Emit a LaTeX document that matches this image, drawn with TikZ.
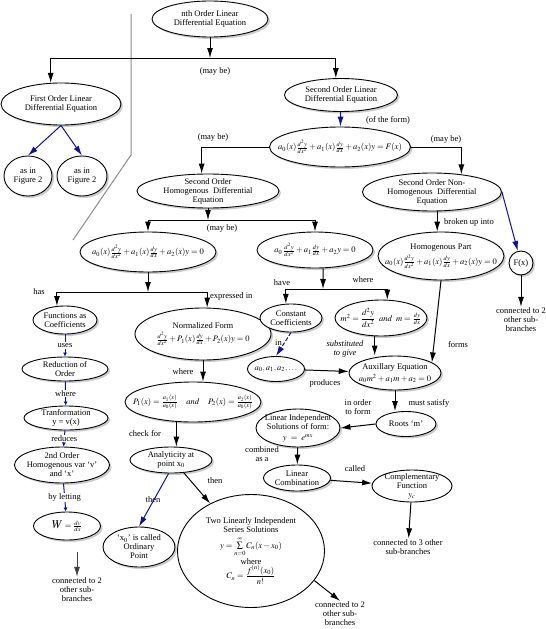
\documentclass[tikz,border=0pt]{standalone}
\usepackage{mathptmx}
\usepackage{fontspec}
\setmainfont{Liberation Serif}
\usepackage{tikz}
\usetikzlibrary{shapes.geometric, arrows.meta, shadows, positioning}
\definecolor{linkblue}{RGB}{15,15,165}

\begin{document}
\begin{tikzpicture}[x=1pt, y=-1pt,
    font=\fontsize{8.5}{9}\selectfont,
    >={Latex[length=10pt,width=6pt]},
    el/.style={ellipse, draw, line width=0.9pt, fill=white, inner xsep=-12pt, inner ysep=-4pt, align=center,
        drop shadow={shadow xshift=2pt, shadow yshift=-2pt, fill=black!40}},
    elns/.style={ellipse, draw, line width=0.9pt, fill=white, inner xsep=-12pt, inner ysep=-4pt, align=center},
    lbl/.style={inner sep=1pt, align=center},
    bl/.style={draw=linkblue, line width=1pt, ->},
    sbl/.style={draw=linkblue, line width=1pt, -{Latex[length=4pt,width=4pt]}},
    ar/.style={line width=1pt, ->}]

        \useasboundingbox (0,0) rectangle (546,629);

        % separator
        \draw[black!45, line width=1pt] (131,14) -- (131,155) -- (73,240);

        \node[el, minimum width=116, minimum height=36] (s0) at (210,19) {nth Order Linear\\Differential Equation};
        \node[el, minimum width=120, minimum height=42] (s1) at (61,104) {First Order Linear\\Differential Equation};
        \node[el, minimum width=113, minimum height=33] (s2) at (341,95) {Second Order Linear\\Differential Equation};
        \node[el, minimum width=48, minimum height=40] (s3) at (28,176) {as in\\Figure 2};
        \node[el, minimum width=50, minimum height=40] (s4) at (82,176) {as in\\Figure 2};
        \node[el, minimum width=137, minimum height=40] (s5) at (340,147) {$a_0(x)\frac{d^2y}{dx^2}+a_1(x)\frac{dy}{dx}+a_2(x)y=F(x)$};
        \node[el, minimum width=142, minimum height=34] (s6) at (208,191) {Second Order\\Homogenous\ \ Differential\\Equation};
        \node[el, minimum width=139, minimum height=38] (s7) at (432,192) {Second Order Non-\\Homogenous\ \ Differential\\Equation};
        \node[el, minimum width=136, minimum height=40] (s8) at (148,252) {$a_0(x)\frac{d^2y}{dx^2}+a_1(x)\frac{dy}{dx}+a_2(x)y=0$};
        \node[el, minimum width=116, minimum height=36] (s9) at (315,250) {$a_0\,\frac{d^2y}{dx^2}+a_1\frac{dy}{dx}+a_2y=0$};
        \node[el, minimum width=126, minimum height=48] (s10) at (441,256) {Homogenous Part\\[3pt]$a_0(x)\frac{d^2y}{dx^2}+a_1(x)\frac{dy}{dx}+a_2(x)y=0$};
        \node[el, minimum width=24, minimum height=24] (s11) at (521,263) {F(x)};

        \node[el, minimum width=64, minimum height=28] (s12) at (65,320) {Functions as\\Coefficients};
        \node[el, minimum width=136, minimum height=52] (s13) at (203,334) {Normalized Form\\[3pt]$\frac{d^2y}{dx^2}+P_1(x)\frac{dy}{dx}+P_2(x)y=0$};
        \node[el, minimum width=62, minimum height=28] (s14) at (291,318) {Constant\\Coefficients};
        \node[el, minimum width=92, minimum height=36] (s15) at (381,318) {$m^2=\displaystyle\frac{d^2y}{dx^2}\;\;and\;\;\textstyle m=\frac{dy}{dx}$};
        \node[el, minimum width=86, minimum height=24] (s16) at (65,369) {Reduction of\\Order};
        \node[el, minimum width=57, minimum height=25] (s17) at (276,369) {$a_0,a_1,a_2,\ldots$};
        \node[el, minimum width=92, minimum height=34] (s18) at (395,373) {Auxillary Equation\\[2pt]$a_0m^2+a_1m+a_2=0$};
        \node[el, minimum width=136, minimum height=40] (s19) at (193,402) {$P_1(x)=\frac{a_1(x)}{a_0(x)}\quad and\quad P_2(x)=\frac{a_2(x)}{a_0(x)}$};
        \node[el, minimum width=84, minimum height=24] (s20) at (66,418) {Tranformation\\y = v(x)};
        \node[el, minimum width=60, minimum height=25] (s21) at (406,424) {Roots `m'};
        \node[el, minimum width=84, minimum height=38] (s22) at (298,428) {Linear Independent\\Solutions of form:\\[2pt]$y\ =\ e^{mx}$};
        \node[el, minimum width=95, minimum height=36] (s23) at (62,465) {2nd Order\\Homogenous var `v'\\and `x'};
        \node[el, minimum width=82, minimum height=26] (s24) at (171,460) {Analyticity at\\point x\textsubscript{0}};
        \node[el, minimum width=67, minimum height=26] (s25) at (297,478) {Linear\\Combination};
        \node[elns, minimum width=80, minimum height=32] (s26) at (412,486) {Complementary\\Function\\$y_c$};
        \node[el, minimum width=67, minimum height=28] (s27) at (67,526) {$\mbox{\large$W$}=\frac{dv}{dx}$};
        \node[el, minimum width=72, minimum height=40] (s28) at (139,547) {`x$_0$' is called\\Ordinary\\Point};
        \node[elns, minimum width=147, minimum height=113] (s29) at (251,551) {Two Linearly Independent\\Series Solutions\\[4pt]$y=\sum\limits_{n=0}^{\infty}C_n(x-x_0)$\\[1pt]where\\$\displaystyle C_n=\frac{f^{(n)}(x_0)}{n!}$};

        \node[lbl] (t1) at (521,320) {connected to 2\\other sub-\\branches};
        \node[lbl] (t2) at (77,590) {connected to 2\\other sub-\\branches};
        \node[lbl] (t3) at (340,614) {connected to 2\\other sub-\\branches};
        \node[lbl] (t4) at (408,547) {connected to 3 other\\sub-branches};

        \coordinate (b1) at (210,58);
        \coordinate (b2) at (208,220);
        \coordinate (b3) at (148,292);
        \coordinate (b4) at (323,289);
        \coordinate (c1) at (77,552);

        % branches
        \draw[ar] (s0) -- (b1);
        \draw[ar] (b1) -| (s1.116);
        \draw[ar] (b1) -| (s2.107);
        \draw[ar] (s5.west) -| (s6.110);
        \draw[ar] (s5.east) -| (s7.31);
        \draw[ar] (s6) -- (b2);
        \draw[ar] (b2) -| (s8);
        \draw[ar] (b2) -| (s9);
        \draw[ar] (s7.-75) -- (s7.-75 |- s10.north);
        \draw[ar] (s11) -- (t1);
        \draw[ar] (s8) -- (b3);
        \draw[ar] (b3) -| (s12.120);
        \draw[ar] (b3) -| (s13.81);
        \draw[ar] (s9.-66) -- (b4);
        \draw[ar] (b4) -| (s14.110);
        \draw[ar] (b4) -| (s15.71);
        \draw[ar] (s13.south) -- (s13.south |- s19.north);
        \draw[ar] (s19.-130) -- (s19.-130 |- s24.north);
        \draw[ar] (s15.-109) -- (s15.-109 |- s18.north);
        \draw[ar] (s18.south) -- (s18.south |- s21.north);
        \draw[black!75, line width=1pt, ->] (c1) -- (t2);

        \path[ar]
        (s17) edge (s18)
        (s10.south) edge (s18.16)
        (s21.west) edge (s22.east)
        (s22) edge (s25)
        (s25) edge (s26)
        (s26) edge (t4)
        (s24.-45) edge (s29)
        (s29.-25) edge (t3.north);

        \path
        (s2) edge[bl] (s5)
        (s1.south) edge[bl] (s3.north)
        (s1.south) edge[bl] (s4.north)
        (s7.east) edge[bl] (s11)
        (s24.-100) edge[bl] (s28.north)
        (s14.south) edge[bl, dash pattern=on 4pt off 2pt] node[pos=0.45, left=1pt, lbl] {in} (s17.north)
        (s12) edge[sbl] node[lbl, fill=white] {uses} (s16)
        (s16) edge[sbl] node[lbl, fill=white] {where} (s20)
        (s20) edge[sbl] node[lbl, fill=white] {reduces} (s23)
        (s23) edge[sbl] node[lbl, fill=white] {by letting} (s27);

        % labels
        \node[lbl] at (215,71) {(may be)};
        \node[lbl] at (388,120) {(of the form)};
        \node[lbl] at (446,139) {(may be)};
        \node[lbl] at (213,137) {(may be)};
        \node[lbl] at (222,228) {(may be)};
        \node[lbl] at (469,222) {broken up into};
        \node[lbl] at (39,292) {has};
        \node[lbl, anchor=west] at (209,296) {expressed in};
        \node[lbl] at (282,283) {have};
        \node[lbl] at (363,280) {where};
        \node[lbl] at (345,349) {\textit{substituted}\\\textit{to give}};
        \node[lbl] at (325,383) {produces};
        \node[lbl] at (458,345) {forms};
        \node[lbl] at (429,403) {must satisfy};
        \node[lbl] at (358,407) {in order\\to form};
        \node[lbl] at (262,454) {combined\\as a};
        \node[lbl] at (355,469) {called};
        \node[lbl] at (183,372) {where};
        \node[lbl] at (145,434) {check for};
        \node[lbl] at (153,500) {then};
        \node[lbl] at (215,481) {then};

    \end{tikzpicture}
\end{document}
